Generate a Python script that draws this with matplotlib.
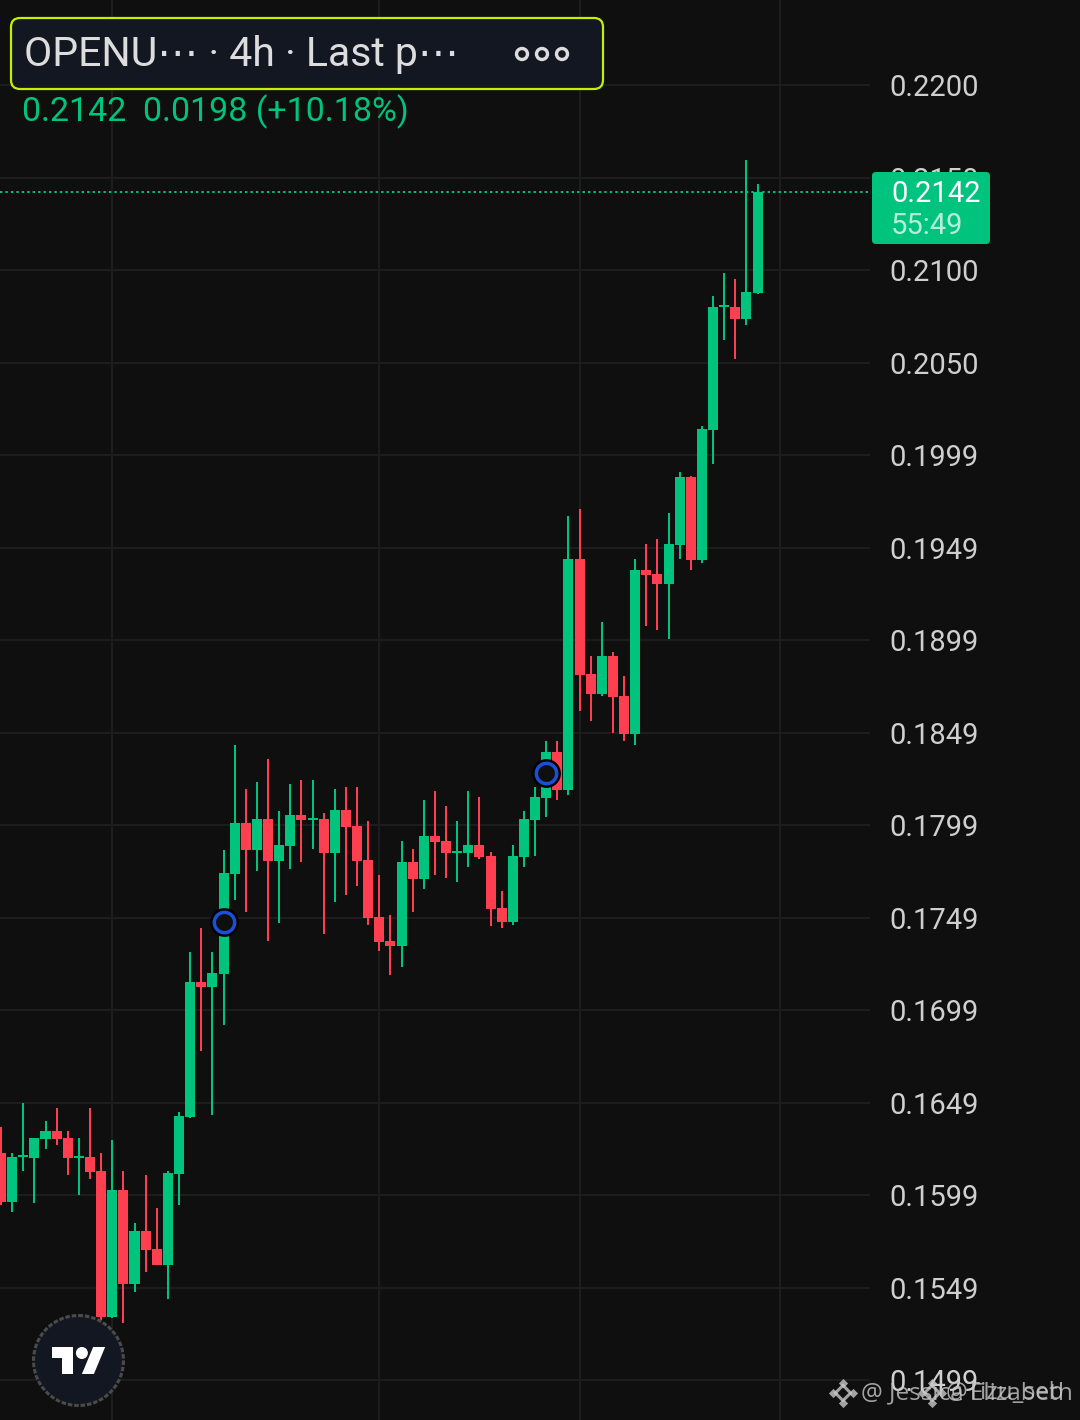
import numpy as np
import matplotlib
matplotlib.use("Agg")
import matplotlib.pyplot as plt
from matplotlib.patches import FancyBboxPatch, Circle, Polygon

# ---------------- data (4h candles, OPENUSDT-like) ----------------
opens = [0.16227, 0.15962, 0.16205, 0.16200, 0.16303, 0.16346, 0.16308, 0.16200, 0.16205, 0.16130,
         0.15341, 0.16027, 0.15519, 0.15805, 0.15708, 0.15622, 0.16114, 0.16422, 0.17151, 0.17124,
         0.17195, 0.17735, 0.18011, 0.17865, 0.18032, 0.17805, 0.17887, 0.18054, 0.18027, 0.18032,
         0.17849, 0.18081, 0.17995, 0.17811, 0.17503, 0.17373, 0.17346, 0.17800, 0.17708, 0.17941,
         0.17914, 0.17849, 0.17849, 0.17892, 0.17832, 0.17551, 0.17476, 0.17827, 0.18027, 0.18146,
         0.18395, 0.18189, 0.19438, 0.18816, 0.18708, 0.18914, 0.18697, 0.18492, 0.19378, 0.19357,
         0.19303, 0.19514, 0.19881, 0.19432, 0.20135, 0.20800, 0.20800, 0.20735, 0.20876]
highs = [0.16368, 0.16227, 0.16497, 0.16308, 0.16400, 0.16470, 0.16346, 0.16308, 0.16470, 0.16227,
         0.16297, 0.16130, 0.15849, 0.16108, 0.15930, 0.16130, 0.16449, 0.17314, 0.17443, 0.17314,
         0.17865, 0.18432, 0.18195, 0.18232, 0.18357, 0.18076, 0.18222, 0.18243, 0.18243, 0.18065,
         0.18195, 0.18205, 0.18205, 0.18022, 0.17730, 0.17514, 0.17914, 0.17870, 0.18135, 0.18184,
         0.18103, 0.18022, 0.18184, 0.18151, 0.17854, 0.17643, 0.17892, 0.18076, 0.18205, 0.18454,
         0.18454, 0.19670, 0.19708, 0.18914, 0.19097, 0.18935, 0.18805, 0.19438, 0.19519, 0.19546,
         0.19686, 0.19908, 0.19886, 0.20157, 0.20859, 0.20984, 0.20951, 0.21595, 0.21465]
lows = [0.15946, 0.15908, 0.16130, 0.15957, 0.16249, 0.16270, 0.16108, 0.16000, 0.16086, 0.15324,
        0.15335, 0.15308, 0.15476, 0.15584, 0.15622, 0.15438, 0.15946, 0.16416, 0.16778, 0.16432,
        0.16919, 0.17595, 0.17530, 0.17751, 0.17373, 0.17470, 0.17762, 0.17800, 0.17870, 0.17411,
        0.17584, 0.17622, 0.17670, 0.17459, 0.17319, 0.17189, 0.17232, 0.17530, 0.17654, 0.17730,
        0.17714, 0.17692, 0.17773, 0.17816, 0.17454, 0.17443, 0.17459, 0.17773, 0.17832, 0.18043,
        0.18135, 0.18162, 0.18616, 0.18562, 0.18697, 0.18497, 0.18454, 0.18432, 0.19076, 0.19054,
        0.19005, 0.19438, 0.19378, 0.19416, 0.19951, 0.20622, 0.20519, 0.20703, 0.20870]
closes = [0.15962, 0.16205, 0.16211, 0.16308, 0.16346, 0.16303, 0.16200, 0.16205, 0.16124, 0.15341,
          0.16027, 0.15519, 0.15805, 0.15703, 0.15622, 0.16119, 0.16427, 0.17151, 0.17124, 0.17200,
          0.17741, 0.18011, 0.17865, 0.18032, 0.17805, 0.17892, 0.18054, 0.18027, 0.18038, 0.17849,
          0.18081, 0.17989, 0.17805, 0.17497, 0.17368, 0.17346, 0.17800, 0.17708, 0.17941, 0.17908,
          0.17849, 0.17860, 0.17892, 0.17827, 0.17546, 0.17476, 0.17832, 0.18032, 0.18151, 0.18395,
          0.18189, 0.19438, 0.18811, 0.18708, 0.18914, 0.18692, 0.18492, 0.19378, 0.19351, 0.19303,
          0.19519, 0.19881, 0.19432, 0.20141, 0.20800, 0.20811, 0.20735, 0.20881, 0.21420]

marker_idx = [20, 49]
marker_price = [0.17476, 0.18281]

last_price = 0.2142
header_title = "OPENU\u22ef \u00b7 4h \u00b7 Last p\u22ef"
header_quote = "0.2142  0.0198 (+10.18%)"
countdown = "55:49"

tick_vals = [0.2200, 0.2150, 0.2100, 0.2050, 0.2000, 0.1950, 0.1900, 0.1850,
             0.1800, 0.1750, 0.1700, 0.1650, 0.1600, 0.1550, 0.1500]
tick_labels = ['0.2200', '0.2150', '0.2100', '0.2050', '0.1999', '0.1949', '0.1899', '0.1849',
               '0.1799', '0.1749', '0.1699', '0.1649', '0.1599', '0.1549', '0.1499']
vgrid_idx = [10, 34, 52, 70]

# ---------------- style ----------------
BG = '#0f0f0f'
UP = '#00c47e'
DN = '#ff3f4f'
GRID = '#1d1d1d'
TXT = '#cfcfcf'
FONT = ['Roboto', 'DejaVu Sans']

W, H = 1080, 1420
fig = plt.figure(figsize=(W / 100, H / 100), dpi=100, facecolor=BG)
ax = fig.add_axes([0, 0, 870 / W, 1])
ax.set_facecolor(BG)

o = np.array(opens); h = np.array(highs); l = np.array(lows); c = np.array(closes)
x = np.arange(len(o))
up = c >= o
cols = np.where(up, UP, DN)

ax.set_xlim(-0.09, 78.11)
ax.set_ylim(0.147838, 0.224595)

for v in tick_vals:
    ax.axhline(v, color=GRID, lw=1.5, zorder=0)
for vi in vgrid_idx:
    ax.axvline(vi, color=GRID, lw=1.5, zorder=0)

ax.vlines(x, l, h, colors=cols, lw=1.45, zorder=2)
body_h = np.maximum(np.abs(c - o), 0.00009)
ax.bar(x, body_h, bottom=np.minimum(o, c), width=0.9, color=cols, lw=0, zorder=3)

ax.axhline(last_price, color=UP, lw=1.4, linestyle=(0, (1.2, 1.6)), zorder=1)

ax.scatter(marker_idx, marker_price, s=280, facecolors=BG, edgecolors='#000000', linewidths=4, zorder=4)
ax.scatter(marker_idx, marker_price, s=215, facecolors=BG, edgecolors='#1a4fd8', linewidths=2.5, zorder=5)

for s in ax.spines.values():
    s.set_visible(False)
ax.yaxis.tick_right()
ax.set_yticks(tick_vals, tick_labels)
ax.set_xticks([])
ax.tick_params(axis='y', length=0, pad=14, labelsize=21, labelcolor=TXT)
for t in ax.get_yticklabels():
    t.set_fontfamily(FONT)

# ---------------- overlay (pixel coordinates) ----------------
ov = fig.add_axes([0, 0, 1, 1], zorder=5)
ov.set_xlim(0, W)
ov.set_ylim(H, 0)
ov.axis('off')
ov.patch.set_alpha(0)

ov.add_patch(FancyBboxPatch((11, 18), 592, 71, boxstyle="round,pad=0,rounding_size=9",
                            fc='#131722', ec='#c4f000', lw=1.6))
ov.text(24, 54, header_title, va='center', ha='left', fontsize=29.5, color='#dddddd', family=FONT)
for cx in (522, 542, 562):
    ov.add_patch(Circle((cx, 54), 5.5, fc='none', ec='#dddddd', lw=2.4))
ov.text(22, 112, header_quote, va='center', ha='left', fontsize=24.5, color=UP, family=FONT)

# last price label
ov.add_patch(FancyBboxPatch((872, 172), 118, 72, boxstyle="round,pad=0,rounding_size=4",
                            fc=UP, ec='none'))
ov.text(891, 194, f"{last_price:.4f}", va='center', ha='left', fontsize=21, color='white', family=FONT)
ov.text(891, 226, countdown, va='center', ha='left', fontsize=21, color=(1, 1, 1, 0.72), family=FONT)

# TradingView badge
ov.add_patch(Circle((78.5, 1360.5), 45, fc='#131722', ec='#4a4a4a', lw=2.2, ls=(0, (1.5, 0.6))))
sc, x0, y0 = 1.5, 51.9, 1341.0
def P(px, py):
    return (x0 + px * sc, y0 + py * sc)
ov.add_patch(Polygon([P(0, 4), P(14, 4), P(14, 22), P(7, 22), P(7, 11), P(0, 11)],
                     closed=True, fc='white', ec='none'))
ov.add_patch(Circle(P(20, 8), 4 * sc, fc='white', ec='none'))
ov.add_patch(Polygon([P(28, 22), P(20, 22), P(27.5, 4), P(35.5, 4)], closed=True, fc='white', ec='none'))

# watermark
def binance_logo(cx, cy, col):
    ov.scatter([cx], [cy], marker='D', s=60, facecolors='none', edgecolors=col, alpha=0.8, lw=2.2)
    for dx, dy in ((0, -10), (-10, 0), (10, 0), (0, 10)):
        ov.scatter([cx + dx], [cy + dy], marker='D', s=22, c=col, alpha=0.8, lw=0)

binance_logo(843, 1393, '#c8c8c8')
binance_logo(932, 1393, '#c8c8c8')
ov.text(861, 1393, "@ Jessica Elizabeth", va='center', ha='left', fontsize=17.5, color='#c8c8c8',
        alpha=0.8, family=['Open Sans', 'DejaVu Sans'])
ov.text(946, 1393, "@Tizu_seb", va='center', ha='left', fontsize=17.5, color='#c8c8c8',
        alpha=0.8, family=['Open Sans', 'DejaVu Sans'])

fig.savefig('out.png', dpi=100, facecolor=BG)
